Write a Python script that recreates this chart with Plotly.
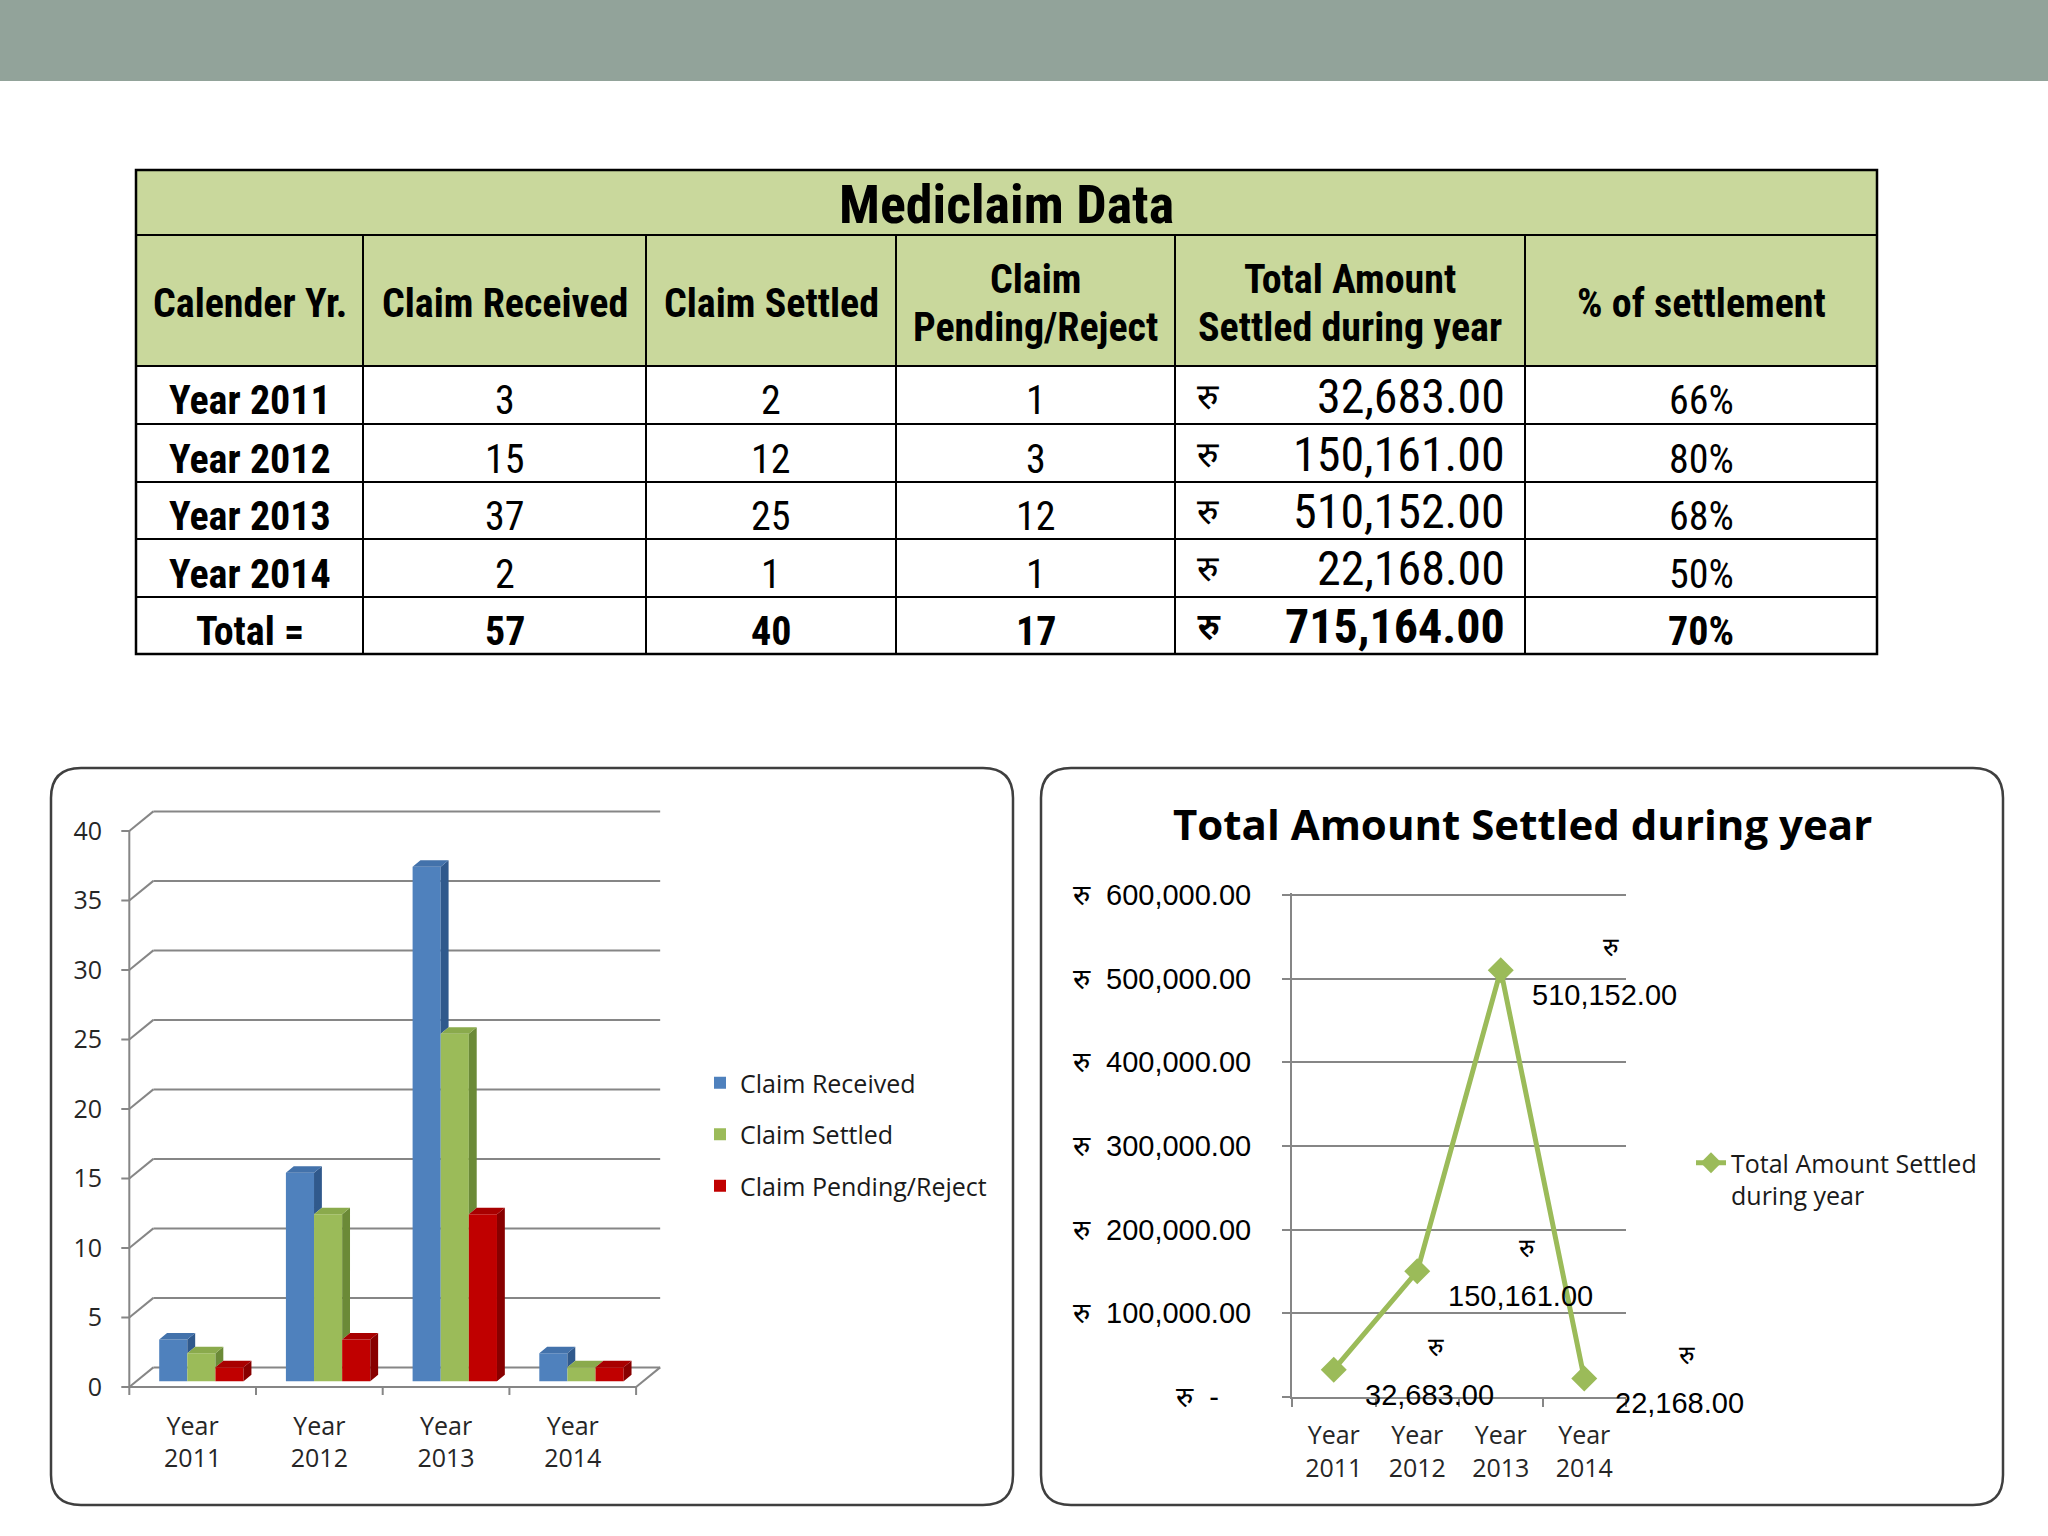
import plotly.graph_objects as go

W, H = 2048, 1536

# ---------------- data ----------------
years = ["Year 2011", "Year 2012", "Year 2013", "Year 2014"]
year_ticks = ["Year<br>2011", "Year<br>2012", "Year<br>2013", "Year<br>2014"]
claim_received = [3, 15, 37, 2]
claim_settled = [2, 12, 25, 1]
claim_pending = [1, 3, 12, 1]
amount_settled = [32683.00, 150161.00, 510152.00, 22168.00]
settlement_pct = [66, 80, 68, 50]
settlement_pct_total = 70

table_title = "Mediclaim Data"
table_headers = ["Calender Yr.", "Claim Received", "Claim Settled",
                 "Claim<br>Pending/Reject", "Total Amount<br>Settled during year",
                 "% of settlement"]
total_label = "Total ="
bar_series_names = ["Claim Received", "Claim Settled", "Claim Pending/Reject"]
line_series_name = "Total Amount Settled<br>during year"
line_chart_title = "Total Amount Settled during year"
bar_axis_ticks = [0, 5, 10, 15, 20, 25, 30, 35, 40]
amount_axis_ticks = [0, 100000, 200000, 300000, 400000, 500000, 600000]
RUPEE = "रु"

# ---------------- styles ----------------
TABLE_FONT = "Liberation Sans Narrow, Arial Narrow, Roboto Condensed, Liberation Sans, sans-serif"
CHART_FONT = "Open Sans, Lato, sans-serif"
ARIAL = "Liberation Sans, Arial, sans-serif"
GRID = "#868686"
BAR_FRONT = ["#4F81BD", "#9BBB59", "#C00000"]
BAR_TOP = ["#4372AB", "#8AAA4C", "#A80000"]
BAR_SIDE = ["#30598C", "#6B8A37", "#880000"]
LINE_GREEN = "#9BBB59"

NB = "\u00a0"


def fmt_money(v):
    return f"{v:,.2f}"


def px_x(x):
    return x / W


def px_y(y):
    return 1 - y / H


shapes = []
annotations = []


def paper_line(x0, y0, x1, y1, color="#000000", width=2):
    shapes.append(dict(type="line", xref="paper", yref="paper",
                       x0=px_x(x0), y0=px_y(y0), x1=px_x(x1), y1=px_y(y1),
                       line=dict(color=color, width=width)))


def paper_text(x, y, text, size, family, xanchor="center", bold=False, color="#000000"):
    annotations.append(dict(xref="paper", yref="paper", x=px_x(x), y=px_y(y),
                            text=f"<b>{text}</b>" if bold else text,
                            showarrow=False, xanchor=xanchor, yanchor="middle",
                            font=dict(family=family, size=size, color=color)))


# ---------------- banner ----------------
shapes.append(dict(type="rect", xref="paper", yref="paper", x0=0, x1=1,
                   y0=px_y(81), y1=1, fillcolor="#92A39A", line=dict(width=0), layer="below"))


# ---------------- rounded chart boxes ----------------
def rounded_box(x0, y0, x1, y1, r):
    rx, ry = r / W, r / H
    X0, X1 = px_x(x0), px_x(x1)
    YT, YB = px_y(y0), px_y(y1)
    path = (f"M {X0+rx},{YT} L {X1-rx},{YT} Q {X1},{YT} {X1},{YT-ry} "
            f"L {X1},{YB+ry} Q {X1},{YB} {X1-rx},{YB} L {X0+rx},{YB} "
            f"Q {X0},{YB} {X0},{YB+ry} L {X0},{YT-ry} Q {X0},{YT} {X0+rx},{YT} Z")
    shapes.append(dict(type="path", xref="paper", yref="paper", path=path,
                       line=dict(color="#3F3F3F", width=2.5),
                       fillcolor="rgba(0,0,0,0)", layer="below"))


rounded_box(51, 768, 1013, 1505, 30)
rounded_box(1041, 768, 2003, 1505, 30)

# ---------------- table ----------------
col_edges = [136, 363, 646, 896, 1175, 1525, 1877]
row_edges = [170, 235, 366, 424, 482, 539, 597, 654]
T_X0, T_X1 = col_edges[0], col_edges[-1]
HEADER_LINE_GAP = 47

shapes.append(dict(type="rect", xref="paper", yref="paper",
                   x0=px_x(T_X0), x1=px_x(T_X1), y0=px_y(row_edges[2]), y1=px_y(row_edges[0]),
                   fillcolor="#C9D89C", line=dict(width=0)))
for y in row_edges[1:-1]:
    paper_line(T_X0, y, T_X1, y, width=2)
for x in col_edges[1:-1]:
    paper_line(x, row_edges[1], x, row_edges[-1], width=2)
shapes.append(dict(type="rect", xref="paper", yref="paper",
                   x0=px_x(T_X0), x1=px_x(T_X1), y0=px_y(row_edges[-1]), y1=px_y(row_edges[0]),
                   fillcolor="rgba(0,0,0,0)", line=dict(color="#000000", width=2.5)))

paper_text((T_X0 + T_X1) / 2, (row_edges[0] + row_edges[1]) / 2 + 2, table_title, 54, TABLE_FONT, bold=True)
for c, head in enumerate(table_headers):
    lines = head.split("<br>")
    ymid = (row_edges[1] + row_edges[2]) / 2 + 3
    for k, ln in enumerate(lines):
        off = (k - (len(lines) - 1) / 2) * HEADER_LINE_GAP
        paper_text((col_edges[c] + col_edges[c + 1]) / 2, ymid + off, ln, 40, TABLE_FONT, bold=True)

body_rows = []
for i, yr in enumerate(years):
    body_rows.append(([yr, claim_received[i], claim_settled[i], claim_pending[i],
                       amount_settled[i], f"{settlement_pct[i]}%"], False))
body_rows.append(([total_label, sum(claim_received), sum(claim_settled), sum(claim_pending),
                   sum(amount_settled), f"{settlement_pct_total}%"], True))

for r, (vals, is_total) in enumerate(body_rows):
    yc = (row_edges[r + 2] + row_edges[r + 3]) / 2
    for c, val in enumerate(vals):
        bold = is_total or c == 0
        if c == 4:
            paper_text(col_edges[c] + 20, yc + 1, RUPEE, 36, ARIAL, xanchor="left", bold=bold)
            paper_text(col_edges[c + 1] - 18, yc + 1, fmt_money(val), 48, TABLE_FONT,
                       xanchor="right", bold=bold)
        else:
            paper_text((col_edges[c] + col_edges[c + 1]) / 2, yc + 6, str(val), 40,
                       TABLE_FONT, bold=bold)

# ---------------- left chart: 3D clustered columns ----------------
XU, YU = 126.7, 13.9          # pixels per category slot / per unit
X0PX, Y0PX = 129.3, 1387.0    # pixel of front axis origin
bx_range = [-0.08, 4.25]
by_range = [-0.62, 42.0]
DEPTH_X, DEPTH_Y = 0.19, 1.41  # back-wall offset
BAR_W, GROUP_OFF, BAR_BASE = 0.222, 0.236, 0.42
FACE_DX, FACE_DY = 0.062, 0.47
n_cat = len(years)

x1_domain = [(X0PX + bx_range[0] * XU) / W, (X0PX + bx_range[1] * XU) / W]
y1_domain = [1 - (Y0PX - by_range[0] * YU) / H, 1 - (Y0PX - by_range[1] * YU) / H]


def data_line(x0, y0, x1, y1, xr="x", yr="y", color=GRID, width=2):
    shapes.append(dict(type="line", xref=xr, yref=yr, x0=x0, y0=y0, x1=x1, y1=y1,
                       line=dict(color=color, width=width), layer="below"))


for v in bar_axis_ticks:
    data_line(DEPTH_X, v + DEPTH_Y, n_cat + DEPTH_X, v + DEPTH_Y)
    data_line(0, v, DEPTH_X, v + DEPTH_Y)
    data_line(0, v, -8 / XU, v)                     # tick mark
data_line(0, 0, 0, bar_axis_ticks[-1])               # front vertical axis
data_line(0, 0, n_cat, 0)                            # floor front edge
data_line(n_cat, 0, n_cat + DEPTH_X, DEPTH_Y)        # floor right edge
for k in range(n_cat + 1):
    data_line(k, 0, k, -8 / YU)                      # category boundary ticks

series = [claim_received, claim_settled, claim_pending]
traces = []
for s, vals in enumerate(series):
    xc = [i + GROUP_OFF + s * BAR_W + BAR_W / 2 for i in range(n_cat)]
    traces.append(go.Bar(x=xc, y=vals, base=BAR_BASE, width=BAR_W, name=bar_series_names[s],
                         marker=dict(color=BAR_FRONT[s], line=dict(width=0)),
                         xaxis="x", yaxis="y", legend="legend", legendgroup=bar_series_names[s]))

face_traces = []
for s, vals in enumerate(series):
    tx, ty, sx, sy = [], [], [], []
    for i, v in enumerate(vals):
        xl = i + GROUP_OFF + s * BAR_W
        xr = xl + BAR_W
        top = BAR_BASE + v
        tx += [xl, xl + FACE_DX, xr + FACE_DX, xr, xl, None]
        ty += [top, top + FACE_DY, top + FACE_DY, top, top, None]
        vn = series[s + 1][i] if s + 1 < len(series) else 0
        if v > vn:
            lo = BAR_BASE + vn
            sx += [xr, xr + FACE_DX, xr + FACE_DX, xr, xr, None]
            sy += [lo, lo + FACE_DY, top + FACE_DY, top, lo, None]
    face_traces.append(go.Scatter(x=sx, y=sy, mode="lines", fill="toself", fillcolor=BAR_SIDE[s],
                                  line=dict(width=0, color=BAR_SIDE[s]), hoverinfo="skip",
                                  showlegend=False, xaxis="x", yaxis="y"))
    face_traces.append(go.Scatter(x=tx, y=ty, mode="lines", fill="toself", fillcolor=BAR_TOP[s],
                                  line=dict(width=0, color=BAR_TOP[s]), hoverinfo="skip",
                                  showlegend=False, xaxis="x", yaxis="y"))

# ---------------- right chart: line ----------------
line_trace = go.Scatter(x=list(range(n_cat)), y=amount_settled, mode="lines+markers",
                        name=line_series_name,
                        line=dict(color=LINE_GREEN, width=5),
                        marker=dict(symbol="diamond", size=20, color=LINE_GREEN),
                        xaxis="x2", yaxis="y2", legend="legend2")

for i, v in enumerate(amount_settled):
    txt = fmt_money(v)
    annotations.append(dict(xref="x2", yref="y2", x=i, y=v, text=txt, showarrow=False,
                            xanchor="left", yanchor="middle", xshift=29, yshift=-25,
                            font=dict(family=ARIAL, size=29, color="#000000")))
    annotations.append(dict(xref="x2", yref="y2", x=i, y=v, text=RUPEE, showarrow=False,
                            xanchor="center", yanchor="middle",
                            xshift=29 + len(txt) * 14.6 / 2 + 8, yshift=23,
                            font=dict(family=ARIAL, size=26, color="#000000")))

amount_tick_text = [f"{RUPEE}{NB}{NB}{fmt_money(v)}" if v else f"{RUPEE}{NB}{NB}-{NB}{NB}{NB}{NB}"
                    for v in amount_axis_ticks]

# right plot pixel mapping
R_Y0PX, R_PX_PER_UNIT = 1397.0, 502.0 / 600000
r_range = [0, 602500]
y2_domain = [1 - R_Y0PX / H, 1 - (R_Y0PX - r_range[1] * R_PX_PER_UNIT) / H]

annotations.append(dict(xref="paper", yref="paper", x=px_x(1522), y=px_y(823),
                        text=f"<b>{line_chart_title}</b>", showarrow=False,
                        xanchor="center", yanchor="middle",
                        font=dict(family=CHART_FONT, size=42, color="#000000")))

fig = go.Figure(data=traces + face_traces + [line_trace])

fig.update_layout(
    width=W, height=H,
    margin=dict(l=0, r=0, t=0, b=0, pad=0, autoexpand=False),
    paper_bgcolor="#FFFFFF", plot_bgcolor="rgba(0,0,0,0)",
    barmode="overlay",
    showlegend=True,
    shapes=shapes,
    annotations=annotations,
    xaxis=dict(domain=x1_domain, range=bx_range, showgrid=False, zeroline=False, showline=False,
               automargin=False,
               tickmode="array", tickvals=[i + 0.5 for i in range(n_cat)], ticktext=year_ticks,
               ticks="", ticklabelstandoff=13,
               tickfont=dict(family=CHART_FONT, size=25, color="#262626"), fixedrange=True),
    yaxis=dict(domain=y1_domain, range=by_range, showgrid=False, zeroline=False, showline=False,
               automargin=False,
               tickmode="array", tickvals=bar_axis_ticks, ticks="", ticklabelstandoff=16,
               tickfont=dict(family=CHART_FONT, size=25, color="#262626"), fixedrange=True),
    xaxis2=dict(domain=[1292 / W, 1626 / W], range=[-0.5, n_cat - 0.5], anchor="y2",
                automargin=False,
                showgrid=False, zeroline=False, showline=True, linecolor=GRID, linewidth=2,
                tickmode="array", tickvals=list(range(n_cat)), ticktext=year_ticks,
                ticks="", ticklabelstandoff=15,
                minor=dict(tickmode="array", tickvals=[k - 0.5 for k in range(n_cat + 1)],
                           ticks="outside", ticklen=8, tickcolor=GRID, tickwidth=2),
                tickfont=dict(family=CHART_FONT, size=25, color="#262626"), fixedrange=True),
    yaxis2=dict(domain=y2_domain, range=r_range, anchor="x2", automargin=False,
                showgrid=True, gridcolor=GRID, gridwidth=2, zeroline=False,
                showline=True, linecolor=GRID, linewidth=2,
                tickmode="array", tickvals=amount_axis_ticks, ticktext=amount_tick_text,
                ticks="outside", ticklen=8, tickcolor=GRID, tickwidth=2, ticklabelstandoff=25,
                tickfont=dict(family=ARIAL, size=29, color="#000000"), fixedrange=True),
    legend=dict(x=px_x(700), y=px_y(1060), xanchor="left", yanchor="top",
                font=dict(family=CHART_FONT, size=25, color="#1A1A1A"),
                tracegroupgap=16, bgcolor="rgba(0,0,0,0)", traceorder="grouped"),
    legend2=dict(x=px_x(1691), y=px_y(1140), xanchor="left", yanchor="top", valign="top",
                 font=dict(family=CHART_FONT, size=25, color="#1A1A1A"),
                 bgcolor="rgba(0,0,0,0)"),
)

fig.write_html("out.html", config={"displayModeBar": False},
               post_script="document.body.style.margin='0';document.body.style.overflow='hidden';")
